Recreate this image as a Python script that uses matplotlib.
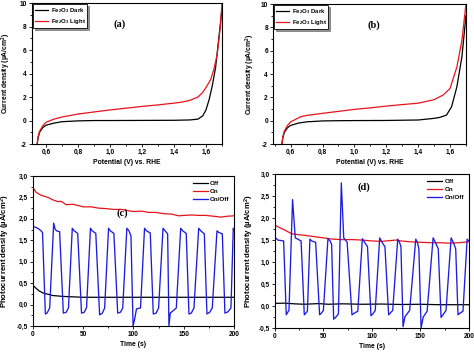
import matplotlib
matplotlib.use("Agg")
import matplotlib.pyplot as plt
from matplotlib.ticker import FuncFormatter, MultipleLocator

plt.rcParams['font.family'] = ['Liberation Sans', 'DejaVu Sans']
plt.rcParams['font.weight'] = 'bold'
plt.rcParams['mathtext.default'] = 'regular'

RED = '#e8141a'
BLUE = '#1c1ce0'

# ---- (a) J-V curves ----
a_dark_v = [0.545, 0.55, 0.56, 0.58, 0.60, 0.65, 0.70, 0.80, 0.90, 1.00, 1.20, 1.40, 1.50,
            1.55, 1.58, 1.60, 1.62, 1.64, 1.66, 1.68, 1.70]
a_dark_j = [-2.0, -1.5, -1.0, -0.6, -0.4, -0.22, -0.1, -0.03, 0.0, 0.0, 0.01, 0.02, 0.05,
            0.12, 0.4, 0.9, 1.8, 3.0, 4.5, 7.0, 9.5]
a_light_v = [0.545, 0.55, 0.56, 0.58, 0.60, 0.65, 0.70, 0.80, 0.90, 1.00, 1.10, 1.20, 1.30,
             1.40, 1.45, 1.50, 1.55, 1.58, 1.60, 1.63, 1.65, 1.67, 1.69, 1.70]
a_light_j = [-2.0, -1.4, -0.9, -0.45, -0.15, 0.12, 0.3, 0.55, 0.73, 0.9, 1.05, 1.2, 1.33,
             1.48, 1.57, 1.72, 2.0, 2.4, 2.8, 3.5, 4.4, 5.6, 8.0, 10.0]

# ---- (b) J-V curves ----
b_dark_v = [0.545, 0.55, 0.56, 0.58, 0.60, 0.65, 0.70, 0.80, 0.90, 1.00, 1.20, 1.40, 1.50,
            1.535, 1.578, 1.61, 1.643, 1.675, 1.70]
b_dark_j = [-2.0, -1.5, -1.0, -0.6, -0.4, -0.2, -0.1, -0.02, 0.0, 0.01, 0.02, 0.06, 0.2,
            0.28, 0.48, 1.2, 2.9, 5.5, 9.0]
b_light_v = [0.545, 0.55, 0.56, 0.58, 0.60, 0.663, 0.70, 0.80, 0.90, 1.00, 1.10, 1.20, 1.30,
             1.40, 1.50, 1.557, 1.60, 1.643, 1.675, 1.70]
b_light_j = [-2.0, -1.4, -0.9, -0.4, -0.1, 0.34, 0.45, 0.63, 0.8, 0.97, 1.1, 1.25, 1.38,
             1.5, 1.8, 2.2, 2.76, 4.6, 6.9, 10.0]

# ---- (c) transients ----
c_off_t = [0, 3, 6, 10, 15, 20, 25, 30, 40, 50, 75, 100, 150, 200]
c_off_j = [0.45, 0.38, 0.32, 0.27, 0.24, 0.21, 0.2, 0.19, 0.18, 0.17, 0.17, 0.17, 0.17, 0.17]
c_on_t = [0, 3, 8, 15, 20, 25, 28, 33, 40, 45, 50, 58, 65, 72, 80, 88, 95, 100, 108, 115,
          122, 130, 138, 145, 150, 158, 165, 172, 180, 187, 193, 200]
c_on_j = [2.73, 2.62, 2.55, 2.5, 2.44, 2.4, 2.41, 2.33, 2.34, 2.31, 2.28, 2.28, 2.25, 2.24,
          2.22, 2.22, 2.19, 2.17, 2.18, 2.15, 2.15, 2.12, 2.11, 2.07, 2.08, 2.09, 2.08, 2.08,
          2.06, 2.04, 2.06, 2.07]
c_onoff_t = [0, 3, 6, 8, 9.5, 12.3, 14, 16.6,
             20.6, 22, 23.5, 26.5, 30.2, 33, 35.3,
             39.1, 41, 44.5, 48.3, 51, 53.3,
             57.2, 59, 62.5, 66.3, 69, 71.3,
             75.2, 77, 80.5, 84.3, 87, 89.3,
             93.4, 95.5, 97.5, 99.6, 101.5, 103, 107,
             111, 113, 116.7, 119.7, 122.5, 125,
             129.4, 131.5, 134, 135.3, 136.6, 142.6,
             147, 149, 152.5, 155.2, 157.5, 160.2,
             164.9, 167, 170.5, 173.1, 175.8, 178.4,
             183.1, 185, 188.4, 191, 194, 197, 199.3, 200]
c_onoff_j = [1.82, 1.8, 1.76, 1.72, 1.68, -0.22, -0.2, -0.08,
             1.9, 1.76, 1.72, 1.7, -0.2, -0.18, -0.08,
             1.78, 1.72, 1.66, -0.2, -0.18, -0.07,
             1.78, 1.72, 1.66, -0.24, -0.2, -0.08,
             1.78, 1.72, 1.66, -0.2, -0.18, -0.08,
             1.78, 1.72, 1.6, -0.5, -0.3, -0.1, -0.08,
             1.78, 1.72, 1.67, -0.22, -0.2, -0.08,
             1.78, 1.72, 1.65, -0.5, -0.2, -0.08,
             1.78, 1.72, 1.66, -0.22, -0.2, -0.08,
             1.78, 1.72, 1.65, -0.22, -0.18, -0.08,
             1.72, 1.68, 1.65, -0.2, -0.17, -0.08, 1.78, 1.75]

# ---- (d) transients ----
d_off_t = [0, 10, 20, 30, 45, 55, 70, 90, 110, 130, 150, 170, 200]
d_off_j = [0.06, 0.065, 0.05, 0.04, 0.055, 0.04, 0.05, 0.04, 0.045, 0.035, 0.04, 0.03, 0.03]
d_on_t = [0, 5, 10, 15, 18, 25, 30, 40, 50, 60, 70, 80, 90, 100, 110, 120, 125, 130, 140,
          150, 160, 170, 180, 190, 200]
d_on_j = [1.84, 1.78, 1.73, 1.67, 1.64, 1.62, 1.61, 1.58, 1.55, 1.52, 1.51, 1.51, 1.5, 1.48,
          1.47, 1.49, 1.5, 1.48, 1.46, 1.45, 1.44, 1.44, 1.43, 1.44, 1.46]
d_onoff_t = [0, 3, 9, 11.7, 13, 14.5,
             18.2, 21, 27, 30.3, 32, 33.5,
             36.1, 38, 42, 46.1, 48, 50,
             54.7, 57, 58.5, 60.6, 63, 65.5,
             68.5, 71, 74.5, 79.5, 82, 85.5,
             90.2, 92.5, 95.5, 99.1, 101, 103.5,
             108.1, 110.5, 113.5, 117.3, 119, 121.5,
             126.7, 128.5, 130, 132.2, 134, 139,
             145.3, 147, 148.5, 150.8, 153, 157,
             163.2, 165.5, 168.5, 171.4, 174, 176.5,
             181.8, 184, 186.5, 188.9, 191, 194,
             198.3, 200]
d_onoff_j = [1.57, 1.5, 1.48, -0.2, -0.15, -0.1,
             2.42, 1.55, 1.48, -0.2, -0.16, -0.12,
             1.52, 1.48, 1.45, -0.2, -0.16, -0.1,
             1.53, 1.48, 1.4, -0.3, -0.25, -0.18,
             2.8, 1.55, 1.45, -0.2, -0.16, -0.12,
             1.53, 1.45, 1.35, -0.22, -0.18, -0.1,
             1.55, 1.45, 1.35, -0.2, -0.16, -0.1,
             1.52, 1.45, 1.35, -0.47, -0.25, -0.1,
             1.52, 1.45, 1.3, -0.5, -0.25, -0.12,
             1.55, 1.45, 1.3, -0.26, -0.18, -0.1,
             1.55, 1.45, 1.3, -0.2, -0.16, -0.12,
             1.52, 1.48]


def comma(fmt):
    return FuncFormatter(lambda v, pos: (fmt % v).replace('.', ','))


def style(ax):
    for s in ax.spines.values():
        s.set_linewidth(0.8)
    ax.tick_params(which='both', direction='out', labelsize=4.7, pad=1.5, width=0.6)
    ax.tick_params(which='major', length=2.2)
    ax.tick_params(which='minor', length=1.3)


fig = plt.figure(figsize=(4.74, 3.53), dpi=100)
ax_a = fig.add_axes([0.0675, 0.592, 0.4008, 0.3994])
ax_b = fig.add_axes([0.576, 0.592, 0.407, 0.3966])
ax_c = fig.add_axes([0.0696, 0.0765, 0.424, 0.425])
ax_d = fig.add_axes([0.580, 0.0708, 0.409, 0.436])

panel_kw = dict(fontsize=7.5, fontweight='bold', family=['Liberation Serif', 'DejaVu Serif'],
                ha='center', va='center')

# J-V panels
for ax, dv, dj, lv, lj, xl, tag, pos, ylx, xly in [
        (ax_a, a_dark_v, a_dark_j, a_light_v, a_light_j, (0.5125, 1.70), '(a)',
         (0.463, 0.851), -0.100, -0.103),
        (ax_b, b_dark_v, b_dark_j, b_light_v, b_light_j, (0.489, 1.70), '(b)',
         (0.523, 0.85), -0.083, -0.109)]:
    ax.plot(dv, dj, color='black', lw=0.9, label='Fe$_2$O$_3$ Dark')
    ax.plot(lv, lj, color=RED, lw=0.9, label='Fe$_2$O$_3$ Light')
    ax.set_xlim(*xl)
    ax.set_ylim(-2, 10)
    ax.xaxis.set_major_locator(MultipleLocator(0.2))
    ax.xaxis.set_minor_locator(MultipleLocator(0.1))
    ax.yaxis.set_major_locator(MultipleLocator(2))
    ax.yaxis.set_minor_locator(MultipleLocator(1))
    ax.xaxis.set_major_formatter(comma('%.1f'))
    ax.yaxis.set_major_formatter(comma('%d'))
    style(ax)
    ax.set_xlabel('Potential (V) vs. RHE', fontsize=4.9, fontweight='bold')
    ax.set_ylabel('Current density (µA/cm$^2$)', fontsize=4.9, fontweight='bold')
    ax.xaxis.set_label_coords(0.5, xly)
    ax.yaxis.set_label_coords(ylx, 0.5)
    ax.text(pos[0], pos[1], tag, transform=ax.transAxes, **panel_kw)
    leg = ax.legend(loc='upper left', bbox_to_anchor=(0.0, 1.0), fontsize=4.3,
                    fancybox=False, shadow={'ox': 1.5, 'oy': -1.5, 'alpha': 0.6},
                    handlelength=2.1, handletextpad=0.5,
                    borderpad=0.3, labelspacing=0.4, borderaxespad=0.2)
    leg.get_frame().set_edgecolor('black')
    leg.get_frame().set_linewidth(0.6)

# transient panels
for ax, ot, oj, nt, nj, bt, bj, tag, pos, ylx, xly in [
        (ax_c, c_off_t, c_off_j, c_on_t, c_on_j, c_onoff_t, c_onoff_j, '(c)',
         (0.445, 0.755), -0.105, -0.097),
        (ax_d, d_off_t, d_off_j, d_on_t, d_on_j, d_onoff_t, d_onoff_j, '(d)',
         (0.459, 0.917), -0.099, -0.1)]:
    ax.plot(ot, oj, color='black', lw=0.9, label='Off')
    ax.plot(nt, nj, color=RED, lw=0.9, label='On')
    ax.plot(bt, bj, color=BLUE, lw=0.95, label='On/Off')
    ax.set_xlim(0, 200)
    ax.set_ylim(-0.5, 3.0)
    ax.xaxis.set_major_locator(MultipleLocator(50))
    ax.xaxis.set_minor_locator(MultipleLocator(25))
    ax.yaxis.set_major_locator(MultipleLocator(0.5))
    ax.yaxis.set_minor_locator(MultipleLocator(0.25))
    ax.yaxis.set_major_formatter(comma('%.1f'))
    style(ax)
    ax.set_xlabel('Time (s)', fontsize=4.9, fontweight='bold')
    ax.set_ylabel('Photocurrent density (µA/cm$^2$)', fontsize=5.6, fontweight='bold')
    ax.xaxis.set_label_coords(0.5, xly)
    ax.yaxis.set_label_coords(ylx, 0.5)
    ax.text(pos[0], pos[1], tag, transform=ax.transAxes, **panel_kw)
    ax.legend(loc='upper right', frameon=False, fontsize=4.5, handlelength=2.4,
              handletextpad=0.4, labelspacing=0.45, borderaxespad=0.3)

fig.savefig('out.png', dpi=100)
